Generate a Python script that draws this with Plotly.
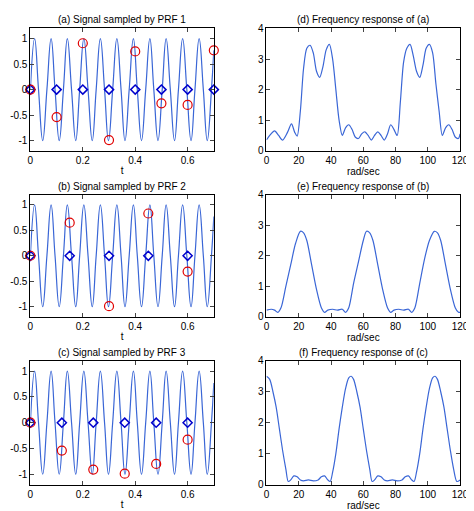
import plotly.graph_objects as go
from plotly.subplots import make_subplots

# signal key points (zero crossings / peaks / troughs of the drawn wave)
sig_t = [0, .016, .031, .047, .063, .079, .094, .110, .126, .141, .157, .173, .188, .204, .220, .236,
         .251, .267, .283, .298, .314, .330, .346, .361, .377, .393, .408, .424, .440, .456, .471,
         .487, .503, .518, .534, .550, .565, .581, .597, .613, .628, .644, .660, .675, .691, .70]
sig_y = [0, 1, 0, -1, 0, 1, 0, -1, 0, 1, 0, -1, 0, 1, 0, -1,
         0, 1, 0, -1, 0, 1, 0, -1, 0, 1, 0, -1, 0, 1, 0,
         -1, 0, 1, 0, -1, 0, 1, 0, -1, 0, 1, 0, -1, 0, 0.77]

a_t = [0, 0.1, 0.2, 0.3, 0.4, 0.5, 0.6, 0.7]
a_v = [0, -0.54, 0.91, -0.99, 0.75, -0.27, -0.30, 0.77]
b_t = [0, 0.15, 0.3, 0.45, 0.6]
b_v = [0, 0.65, -0.99, 0.83, -0.31]
c_t = [0, 0.12, 0.24, 0.36, 0.48, 0.6]
c_v = [0, -0.54, -0.91, -0.99, -0.80, -0.33]

d_x = [0, 2, 5, 7.5, 10, 13, 15.5, 17.5, 19, 21, 23, 25, 27, 29, 31, 33, 35, 37, 39, 41, 43, 45, 47,
       49, 51, 53, 55, 57, 59, 61, 63, 65, 67, 69, 71, 73, 75, 77, 79, 81, 83, 85, 87, 89, 91, 93,
       95, 97, 99, 101, 103, 105, 107, 109, 111, 113, 115, 117, 119, 120]
d_y = [0.35, 0.5, 0.65, 0.5, 0.35, 0.6, 0.88, 0.6, 0.48, 1.3, 2.7, 3.35, 3.45, 3.2, 2.6, 2.4, 2.75, 3.3, 3.48,
       3.0, 2.0, 1.0, 0.5, 0.75, 0.85, 0.7, 0.45, 0.4, 0.55, 0.62, 0.5, 0.35, 0.5, 0.62, 0.5, 0.35,
       0.55, 0.85, 0.7, 0.5, 1.6, 2.9, 3.35, 3.48, 3.1, 2.6, 2.4, 2.8, 3.35, 3.48, 3.2, 2.2, 1.3,
       0.5, 0.75, 0.85, 0.7, 0.45, 0.4, 0.55]
e_x = [0, 3, 5, 7, 9, 12, 15, 18, 21, 23, 25, 28, 31, 34, 36, 38, 41, 44, 47, 49, 51, 54, 57, 60, 62,
       64, 66, 69, 72, 75, 77, 79, 82, 85, 88, 90, 92, 95, 98, 101, 104, 106, 108, 111, 114, 117, 119, 120]
e_y = [0.22, 0.25, 0.22, 0.15, 0.3, 1.0, 1.7, 2.4, 2.8, 2.75, 2.5, 1.7, 0.9, 0.3, 0.15, 0.22, 0.25,
       0.22, 0.25, 0.15, 0.3, 1.1, 1.8, 2.5, 2.8, 2.75, 2.5, 1.7, 0.9, 0.3, 0.15, 0.22, 0.25, 0.22,
       0.25, 0.15, 0.3, 1.1, 1.9, 2.5, 2.8, 2.75, 2.5, 1.7, 0.9, 0.3, 0.15, 0.15]
f_x = [0, 2, 4, 6, 8, 10, 12, 13.5, 15, 17, 19, 21, 23, 26, 29, 32, 34, 36, 38, 39.5, 41, 43, 45, 47,
       49, 51, 52.5, 54, 56, 58, 60, 62, 64, 65.5, 67, 69, 71, 73, 75, 78, 81, 84, 86, 88, 90, 91.5,
       93, 95, 97, 99, 101, 103, 104.5, 106, 108, 110, 112, 114, 116, 118, 120]
f_y = [3.5, 3.4, 3.0, 2.5, 1.8, 1.1, 0.5, 0.1, 0.15, 0.28, 0.25, 0.15, 0.12, 0.15, 0.12, 0.15, 0.25,
       0.28, 0.15, 0.1, 0.4, 1.0, 1.8, 2.5, 3.1, 3.45, 3.5, 3.4, 3.0, 2.5, 1.8, 1.1, 0.5, 0.1, 0.15,
       0.28, 0.25, 0.15, 0.12, 0.15, 0.12, 0.15, 0.25, 0.28, 0.15, 0.1, 0.4, 1.0, 1.8, 2.5, 3.1,
       3.45, 3.5, 3.4, 3.0, 2.5, 1.8, 1.1, 0.5, 0.1, 0.15]

titles = ["(a) Signal sampled by PRF 1", "(d) Frequency response of (a)",
          "(b) Signal sampled by PRF 2", "(e) Frequency response of (b)",
          "(c) Signal sampled by PRF 3", "(f) Frequency response of (c)"]

fig = make_subplots(rows=3, cols=2)
LINE = "#3a66d6"
samples = [(a_t, a_v), (b_t, b_v), (c_t, c_v)]
freqs = [(d_x, d_y), (e_x, e_y), (f_x, f_y)]
for r in range(3):
    fig.add_trace(go.Scatter(x=sig_t, y=sig_y, mode="lines", line=dict(color=LINE, width=1.2, shape="spline", smoothing=1.3)), row=r+1, col=1)
    t, v = samples[r]
    fig.add_trace(go.Scatter(x=t, y=[0]*len(t), mode="markers", cliponaxis=False,
                             marker=dict(symbol="diamond-open", color="#0000cc", size=7, line=dict(width=1.5))), row=r+1, col=1)
    fig.add_trace(go.Scatter(x=t, y=v, mode="markers", cliponaxis=False,
                             marker=dict(symbol="circle-open", color="#e00000", size=9, line=dict(width=1.2))), row=r+1, col=1)
    fx, fy = freqs[r]
    fig.add_trace(go.Scatter(x=fx, y=fy, mode="lines", line=dict(color=LINE, width=1.2, shape="spline", smoothing=0.8)), row=r+1, col=2)

xd = {1: [0.042, 0.439], 2: [0.553, 0.972]}
yd = [[0.726, 0.971], [0.393, 0.638], [0.057, 0.305]]
ax_common = dict(showline=True, mirror="ticks", linecolor="black", linewidth=1, ticks="inside", ticklen=4,
                 showgrid=False, zeroline=False, tickfont=dict(size=10, color="black"))
for r in range(3):
    for c in (1, 2):
        fig.update_xaxes(domain=xd[c], row=r+1, col=c, **ax_common)
        fig.update_yaxes(domain=yd[r], row=r+1, col=c, **ax_common)
    fig.update_xaxes(range=[0, 0.7], tickvals=[0, 0.2, 0.4, 0.6], ticktext=["0", "0.2", "0.4", "0.6"],
                     title=dict(text="t", standoff=2, font=dict(size=10)), row=r+1, col=1)
    fig.update_yaxes(range=[-1.2, 1.2], tickvals=[-1, -0.5, 0, 0.5, 1], ticktext=["-1", "-0.5", "0", "0.5", "1"], row=r+1, col=1)
    fig.update_xaxes(range=[0, 120], tickvals=[0, 20, 40, 60, 80, 100, 120],
                     title=dict(text="rad/sec", standoff=2, font=dict(size=10)), row=r+1, col=2)
    fig.update_yaxes(range=[0, 4], tickvals=[0, 1, 2, 3, 4], row=r+1, col=2)

anns = []
for i, tt in enumerate(titles):
    r, c = divmod(i, 2)
    anns.append(dict(text=tt, x=sum(xd[c+1])/2, y=yd[r][1], xref="paper", yref="paper",
                     xanchor="center", yanchor="bottom", yshift=1, showarrow=False, font=dict(size=10, color="black")))
fig.update_layout(annotations=anns, width=474, height=511, showlegend=False,
                  margin=dict(l=0, r=0, t=0, b=0), plot_bgcolor="white", paper_bgcolor="white",
                  font=dict(family="Liberation Sans, Arial", color="black"))
fig.write_html("out.html")
